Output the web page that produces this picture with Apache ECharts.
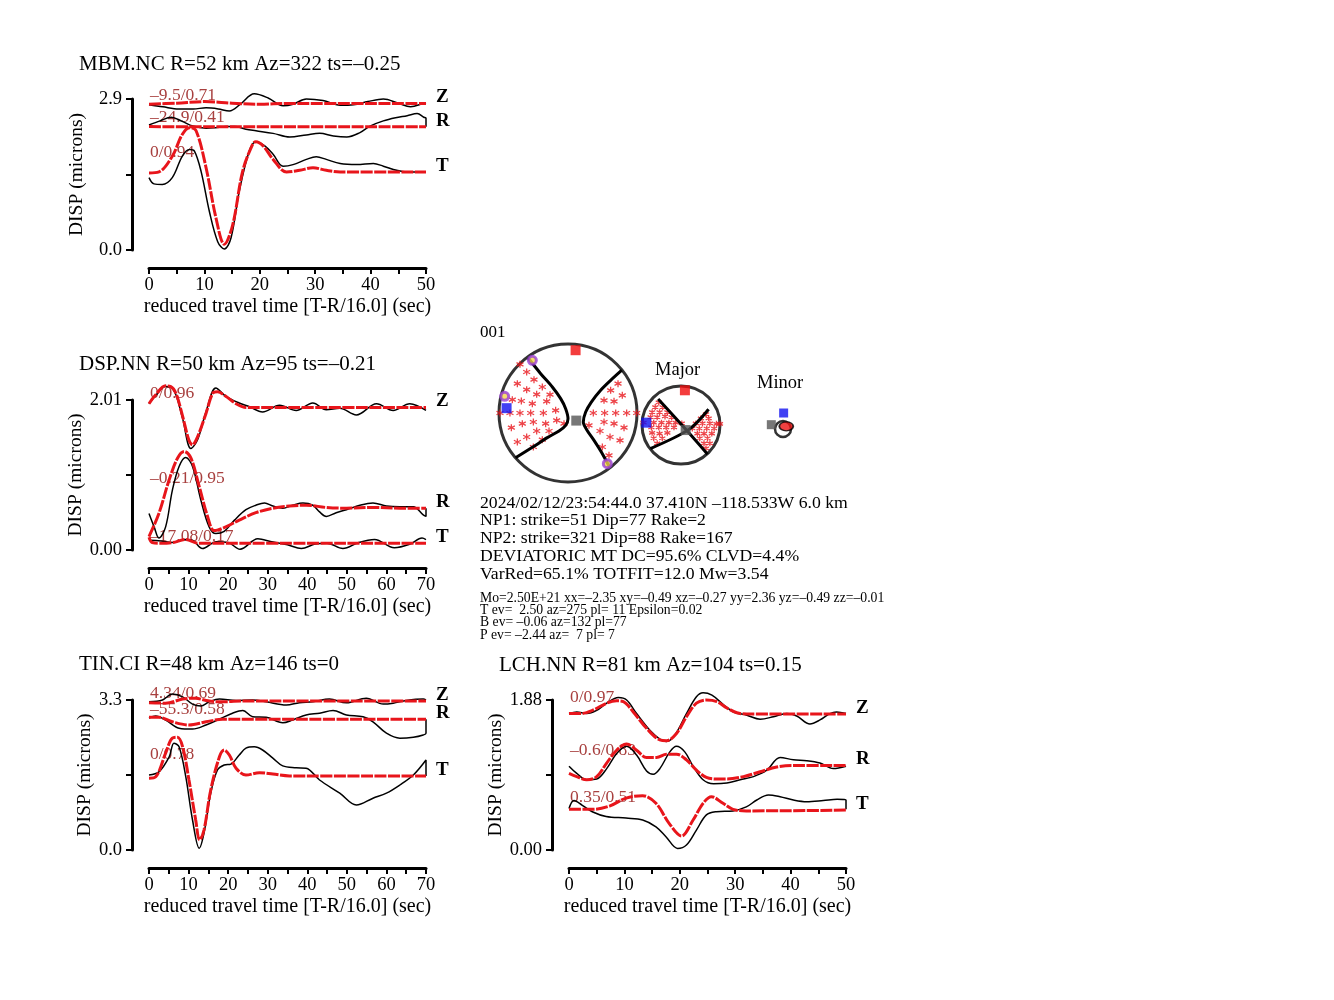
<!DOCTYPE html>
<html>
<head>
<meta charset="utf-8">
<script src="https://cdn.jsdelivr.net/npm/echarts@6/dist/echarts.min.js"></script>
<style>
  html, body { margin: 0; background: #fff; }
  #chart { width: 1334px; height: 1000px; }
</style>
</head>
<body>
<div id="chart"></div>
<script>
// ---- waveform traces: [time (s), displacement incl. trace offset (microns)] ----
// MBM.NC
const mbmZObs = [[0,2.79],[2.5,2.75],[5.4,2.71],[8,2.71],[10.3,2.73],[12.5,2.71],[14.5,2.67],[16.5,2.80],[19,3.0],[21.5,2.92],[24.2,2.77],[26,2.80],[28.4,2.90],[31.4,2.87],[34.5,2.78],[36.9,2.79],[39.5,2.85],[42.3,2.90],[45,2.82],[47.2,2.75],[49.6,2.82],[50,2.83]];
const mbmZSyn = [[0,2.80],[5,2.82],[10,2.85],[15,2.82],[20,2.80],[25,2.815],[50,2.815]];
const mbmRObs = [[0,2.40],[2,2.48],[4,2.55],[6,2.47],[7.9,2.38],[10.3,2.34],[12,2.35],[13.9,2.37],[15.5,2.37],[17.5,2.32],[19.3,2.29],[22.4,2.24],[25.4,2.17],[28.4,2.21],[30.8,2.24],[33.3,2.19],[35.7,2.17],[38,2.25],[39.9,2.38],[42.3,2.48],[44.5,2.54],[46.6,2.58],[48.4,2.62],[49.6,2.55],[50,2.53],[50,2.365]];
const mbmRSyn = [[0,2.37],[10,2.365],[50,2.365]];
const mbmTObs = [[0,1.39],[0.9,1.27],[2.4,1.26],[4.2,1.39],[6.0,1.80],[7.3,1.93],[8.2,1.90],[9.4,1.51],[10.9,0.74],[12.4,0.16],[13.6,0.02],[14.8,0.23],[16.3,1.13],[18.1,1.90],[19.3,2.08],[20.9,2.00],[22.4,1.84],[24.2,1.61],[26.0,1.64],[28.4,1.74],[30.2,1.79],[32.0,1.74],[34.5,1.66],[37.5,1.64],[40.5,1.66],[42.3,1.61],[44.7,1.53],[46.6,1.50],[50,1.50]];
const mbmTSyn = [[0,1.48],[1.8,1.50],[4.2,1.80],[6.0,2.22],[7.3,2.35],[8.5,2.29],[10.3,1.58],[12.1,0.61],[13.6,0.11],[15.1,0.48],[16.9,1.51],[18.7,2.03],[19.3,2.08],[20.6,2.00],[22.4,1.74],[24.8,1.50],[27.2,1.53],[29.6,1.58],[32.0,1.53],[34.5,1.50],[50,1.50]];
// DSP.NN
const dspZObs = [[0,1.96],[1.7,2.07],[4.2,2.19],[5.5,2.18],[6.8,2.08],[8.5,1.76],[10.6,1.36],[12.3,1.48],[14.4,1.85],[16.9,2.17],[19.4,2.06],[22.8,1.97],[25.4,1.92],[28.7,1.85],[33.0,1.94],[37.2,1.87],[41.4,1.97],[44.8,1.88],[48.2,1.90],[52.4,1.81],[57.5,1.96],[61.7,1.87],[65.9,1.96],[70,1.87]];
const dspZSyn = [[0,1.96],[1.7,2.08],[4.2,2.20],[5.5,2.19],[6.8,2.10],[8.5,1.79],[10.1,1.47],[11.0,1.41],[12.3,1.52],[14.4,1.83],[16.1,2.10],[17.3,2.12],[19.4,2.06],[22.0,1.96],[24.5,1.91],[30,1.91],[70,1.91]];
const dspRObs = [[0,0.49],[1.3,0.31],[2.5,0.16],[4.2,0.31],[5.9,0.80],[7.6,1.12],[9.3,1.24],[11.0,1.12],[13.1,0.67],[15.2,0.31],[16.9,0.22],[19.0,0.25],[21.6,0.40],[24.5,0.54],[27.0,0.60],[29.2,0.63],[31.3,0.59],[33.8,0.56],[36.3,0.60],[38.9,0.63],[41.4,0.60],[43.1,0.51],[44.8,0.45],[47.3,0.50],[49.9,0.54],[53.3,0.60],[56.6,0.63],[60.0,0.59],[63.4,0.58],[66.8,0.58],[69.3,0.47],[70,0.45],[70,0.56]];
const dspRSyn = [[0,0.18],[2.5,0.49],[5.1,0.94],[7.2,1.23],[8.9,1.32],[10.6,1.23],[12.7,0.85],[14.8,0.45],[16.5,0.26],[19.4,0.31],[22.8,0.40],[27.0,0.50],[31.3,0.56],[35.5,0.59],[39.7,0.60],[44.8,0.57],[49.9,0.56],[56.6,0.57],[63.4,0.56],[70,0.56]];
const dspTObs = [[0,0.13],[3,0.12],[6,0.10],[9,0.14],[11,0.13],[13.5,0.02],[17,0.11],[20,0.10],[23,0.01],[27.5,0.15],[31,0.11],[35,0.07],[38.5,0.02],[42,0.08],[45,0.09],[49,0.02],[53,0.10],[57,0.14],[62,0.03],[66,0.08],[69,0.16],[70,0.14]];
const dspTSyn = [[0,0.17],[0.8,0.10],[3,0.09],[6,0.10],[9.3,0.14],[12.5,0.09],[16,0.09],[70,0.09]];
// TIN.CI
const tinZObs = [[0,3.26],[3.4,3.30],[5.9,3.43],[8.5,3.37],[11.0,3.21],[13.1,3.17],[15.2,3.26],[17.8,3.32],[22.0,3.29],[26.2,3.30],[29.6,3.26],[34.7,3.19],[38.0,3.24],[41.4,3.26],[45.6,3.32],[49.9,3.24],[54.9,3.34],[59.2,3.21],[61.7,3.23],[65.1,3.29],[69.3,3.32],[70,3.30]];
const tinZSyn = [[0,3.24],[4.2,3.23],[8.5,3.32],[11.8,3.34],[14.4,3.29],[17.8,3.26],[25,3.28],[70,3.28]];
const tinRObs = [[0,2.90],[1.7,2.95],[4.2,2.86],[7.6,2.68],[11.0,2.66],[14.4,2.75],[17.8,2.88],[21.1,3.01],[23.7,3.07],[26.2,2.93],[29.6,2.92],[33.8,2.80],[36.3,2.86],[39.7,2.97],[43.1,3.01],[46.5,3.07],[49.9,2.97],[54.1,2.93],[56.6,2.82],[60.0,2.57],[63.4,2.46],[66.8,2.48],[69.3,2.53],[70,2.57],[70,2.875]];
const tinRSyn = [[0,2.92],[2.5,2.92],[5.9,2.82],[10.1,2.75],[14.4,2.82],[18.6,2.875],[22.8,2.875],[70,2.875]];
const tinTObs = [[0,1.65],[2.5,1.72],[5.1,2.05],[6.3,2.35],[7.6,2.27],[9.3,1.61],[11.0,0.66],[12.7,0.04],[13.9,0.37],[15.6,1.25],[17.3,1.76],[19.0,1.87],[20.7,1.89],[22.8,2.09],[24.5,2.24],[26.6,2.27],[28.7,2.20],[31.3,2.02],[33.8,1.85],[37.2,1.81],[39.7,1.80],[43.1,1.54],[48.2,1.25],[52.4,0.99],[56.6,1.14],[60.0,1.25],[63.4,1.43],[66.8,1.65],[70,1.98],[70,1.63]];
const tinTSyn = [[0,1.58],[1.7,1.61],[4.2,2.13],[5.9,2.46],[7.2,2.48],[8.5,2.27],[10.1,1.54],[11.8,0.66],[12.8,0.22],[13.9,0.44],[15.6,1.32],[17.8,2.05],[19.0,2.20],[20.3,2.09],[22.0,1.80],[24.5,1.65],[27.9,1.70],[31.3,1.67],[35.5,1.63],[70,1.63]];
// LCH.NN
const lchZObs = [[0,1.71],[1.4,1.73],[3.2,1.71],[5.0,1.75],[6.8,1.84],[8.9,1.91],[10.4,1.88],[12.2,1.71],[14.6,1.50],[16.4,1.39],[17.6,1.36],[19.1,1.44],[21.2,1.71],[23.0,1.92],[24.2,1.97],[25.8,1.94],[27.9,1.82],[29.7,1.73],[32.1,1.69],[34.5,1.64],[36.9,1.67],[39.3,1.71],[41.1,1.68],[43.5,1.58],[45.3,1.63],[47.1,1.71],[48.3,1.73],[50,1.71]];
const lchZSyn = [[0,1.71],[2.0,1.71],[4.4,1.755],[6.8,1.84],[8.6,1.87],[9.8,1.86],[11.6,1.73],[14.0,1.525],[16.4,1.38],[17.6,1.37],[19.4,1.46],[21.2,1.67],[23.0,1.84],[24.8,1.88],[26.7,1.86],[28.5,1.78],[30.3,1.72],[32.1,1.705],[50,1.705]];
const lchRObs = [[0,1.05],[1.4,0.96],[3.2,0.88],[5.0,0.89],[6.8,1.02],[8.6,1.21],[10.4,1.30],[12.2,1.19],[14.0,0.99],[15.2,0.95],[16.4,1.02],[18.2,1.23],[19.4,1.30],[20.9,1.23],[22.4,1.05],[24.2,0.88],[26.1,0.83],[28.5,0.84],[30.9,0.88],[33.3,0.92],[35.7,1.00],[38.1,1.16],[40.5,1.13],[42.9,1.12],[45.3,1.09],[47.7,1.02],[50,1.05]];
const lchRSyn = [[0,0.96],[1.4,0.92],[3.2,0.88],[5.0,0.92],[6.8,1.09],[8.6,1.25],[10.4,1.33],[12.2,1.25],[14.0,1.16],[15.8,1.16],[17.6,1.20],[19.4,1.20],[21.2,1.13],[23.0,1.00],[24.8,0.91],[26.7,0.89],[28.5,0.89],[31.5,0.92],[34.5,0.98],[37.5,1.04],[40.5,1.06],[50,1.06]];
const lchTObs = [[0,0.52],[0.9,0.62],[2.4,0.56],[4.2,0.48],[6.7,0.42],[10.3,0.40],[13.3,0.376],[15.7,0.29],[17.5,0.167],[19.6,0.02],[21.2,0.063],[23.0,0.25],[24.8,0.44],[26.6,0.48],[29.6,0.49],[32.0,0.54],[33.9,0.627],[36.0,0.69],[38.1,0.668],[40.5,0.627],[42.9,0.606],[45.9,0.62],[48.4,0.635],[50,0.627],[50,0.51]];
const lchTSyn = [[0,0.51],[4.2,0.51],[7.3,0.55],[10.3,0.65],[13.3,0.68],[15.7,0.585],[18.1,0.33],[20.3,0.175],[22.4,0.376],[24.2,0.585],[25.7,0.668],[27.8,0.585],[29.6,0.51],[32.0,0.49],[50,0.50]];

// fit labels (time shift / correlation) for Z, R, T
const mbmFits = ['–9.5/0.71', '–24.9/0.41', '0/0.94'];
const dspFits = ['0/0.96', '–0.21/0.95', '–17.08/0.17'];
const tinFits = ['4.34/0.69', '–55.3/0.58', '0/0.78'];
const lchFits = ['0/0.97', '–0.6/0.83', '0.35/0.51'];
const components = ['Z', 'R', 'T'];

// ---- focal mechanism plots: points in unit-circle coordinates ----
const bigNodal1 = [[-0.58,0.80],[-0.396,0.570],[-0.227,0.377],[-0.106,0.208],[-0.034,0.063],[0.0,-0.082],[-0.034,-0.179],[-0.130,-0.261],[-0.300,-0.357],[-0.493,-0.483],[-0.76,-0.65]];
const bigNodal2 = [[0.78,0.62],[0.618,0.473],[0.473,0.329],[0.338,0.159],[0.256,0.014],[0.222,-0.130],[0.271,-0.242],[0.377,-0.396],[0.483,-0.565],[0.60,-0.78]];
const bigStars = [[-0.696,0.705],[-0.599,0.594],[-0.493,0.483],[-0.372,0.377],[-0.734,0.425],[-0.599,0.338],[-0.454,0.271],[-0.261,0.266],[-0.807,0.193],[-0.676,0.174],[-0.517,0.135],[-0.309,0.169],[-0.179,0.039],[-0.986,0],[-0.841,0],[-0.696,0],[-0.541,0],[-0.357,0],[-0.164,-0.106],[-0.058,-0.155],[-0.821,-0.213],[-0.662,-0.155],[-0.502,-0.130],[-0.324,-0.155],[-0.454,-0.261],[-0.275,-0.261],[-0.599,-0.348],[-0.734,-0.420],[-0.372,-0.386],[-0.502,-0.493],
  [0.725,0.425],[0.618,0.329],[0.787,0.256],[0.522,0.184],[0.667,0.169],[0.367,0],[0.531,0],[0.691,0],[0.850,0],[0.995,0],[0.304,-0.179],[0.522,-0.130],[0.667,-0.155],[0.812,-0.213],[0.464,-0.261],[0.609,-0.348],[0.754,-0.396],[0.498,-0.493],[0.594,-0.614]];
const bigPAxis = [[0.11,0.91]];
const bigTAxis = [[-0.89,0.07]];
const bigBAxis = [[0.12,-0.11]];
const bigStations = [[-0.517,0.763],[-0.918,0.242],[0.570,-0.734]];

const majorNodal1 = [[-0.586,0.664],[0.121,-0.112],[0.681,-0.750]];
const majorNodal2 = [[0.707,0.405],[0.207,-0.112],[-0.784,-0.603]];
const majorStars = [[-0.57,0.58],[-0.66,0.46],[-0.47,0.46],[-0.74,0.33],[-0.55,0.33],[-0.35,0.33],[-0.78,0.20],[-0.61,0.20],[-0.41,0.22],[-0.24,0.20],[-0.70,0.06],[-0.50,0.06],[-0.31,0.06],[-0.14,0.06],[0.02,0.04],[-0.96,0.06],[-0.76,-0.06],[-0.57,-0.06],[-0.38,-0.06],[-0.18,-0.06],[-0.74,-0.20],[-0.55,-0.22],[-0.35,-0.20],[-0.70,-0.34],[-0.48,-0.34],[-0.61,-0.47],
  [0.64,0.28],[0.51,0.17],[0.71,0.17],[0.38,0.04],[0.55,0.04],[0.74,0.04],[0.91,0.03],[1.0,0.03],[0.29,-0.09],[0.47,-0.09],[0.66,-0.09],[0.85,-0.09],[0.42,-0.22],[0.59,-0.22],[0.79,-0.22],[0.48,-0.34],[0.68,-0.34],[0.59,-0.47],[0.74,-0.47],[0.64,-0.60]];
const majorPAxis = [[0.10,0.89]];
const majorTAxis = [[-0.89,0.06]];
const majorBAxis = [[0.12,-0.13]];

const minorLobe = [[0.41,0.33]];
const minorTAxis = [[0.08,2.0]];
const minorBAxis = [[-1.46,0.54]];

const eventInfo = [
  '2024/02/12/23:54:44.0 37.410N –118.533W 6.0 km',
  'NP1: strike=51 Dip=77 Rake=2',
  'NP2: strike=321 Dip=88 Rake=167',
  'DEVIATORIC MT DC=95.6% CLVD=4.4%',
  'VarRed=65.1% TOTFIT=12.0 Mw=3.54'
];
const tensorInfo = [
  'Mo=2.50E+21 xx=–2.35 xy=–0.49 xz=–0.27 yy=2.36 yz=–0.49 zz=–0.01',
  'T ev=  2.50 az=275 pl= 11 Epsilon=0.02',
  'B ev= –0.06 az=132 pl=77',
  'P ev= –2.44 az=  7 pl= 7'
];

// ---- layout / style ----
const FONT = "'Liberation Serif', 'DejaVu Serif', serif";
const RED = '#e8151b';
const FIT = '#a8403f';

const panels = [
  { title: 'MBM.NC R=52 km Az=322 ts=–0.25', obs: [mbmZObs, mbmRObs, mbmTObs], syn: [mbmZSyn, mbmRSyn, mbmTSyn], fits: mbmFits, fitY: [95, 117, 152],
    xMax: 50, yMax: 2.9, digits: 1, left: 149, top: 99, height: 151, titleX: 79, titleY: 64, nameGap: 45 },
  { title: 'DSP.NN R=50 km Az=95 ts=–0.21', obs: [dspZObs, dspRObs, dspTObs], syn: [dspZSyn, dspRSyn, dspTSyn], fits: dspFits, fitY: [393, 478, 536],
    xMax: 70, yMax: 2.01, digits: 2, left: 149, top: 400, height: 150, titleX: 79, titleY: 364, nameGap: 45 },
  { title: 'TIN.CI R=48 km Az=146 ts=0', obs: [tinZObs, tinRObs, tinTObs], syn: [tinZSyn, tinRSyn, tinTSyn], fits: tinFits, fitY: [693, 709, 754],
    xMax: 70, yMax: 3.3, digits: 1, left: 149, top: 700, height: 150, titleX: 79, titleY: 664, nameGap: 37 },
  { title: 'LCH.NN R=81 km Az=104 ts=0.15', obs: [lchZObs, lchRObs, lchTObs], syn: [lchZSyn, lchRSyn, lchTSyn], fits: lchFits, fitY: [697, 750, 797],
    xMax: 50, yMax: 1.88, digits: 2, left: 569, top: 700, height: 150, titleX: 499, titleY: 665, nameGap: 45 }
];

const balls = [
  { cx: 568, cy: 413, r: 69 },
  { cx: 681, cy: 425, r: 39 },
  { cx: 783, cy: 429, r: 8 }
];

const ASTERISK = 'path://M5,0L5,10M0.67,2.5L9.33,7.5M0.67,7.5L9.33,2.5';

const grid = [], xAxis = [], yAxis = [], series = [], graphic = [];

function txt(text, x, y, size, color) {
  graphic.push({ type: 'text', x: x, y: y, silent: true,
    style: { text: text, fill: color || '#000', font: size + 'px ' + FONT, verticalAlign: 'middle', textAlign: 'left' } });
}

panels.forEach((p, i) => {
  grid.push({ left: p.left, top: p.top, width: 277, height: p.height });
  const tickStyle = { color: '#000', fontFamily: FONT, fontSize: 18.5 };
  const nameStyle = { color: '#000', fontFamily: FONT, fontSize: 20 };
  xAxis.push({
    gridIndex: i, type: 'value', min: 0, max: p.xMax, interval: 5, position: 'bottom', offset: 18,
    axisLine: { onZero: false, lineStyle: { color: '#000', width: 3 } },
    axisTick: { length: 6, lineStyle: { color: '#000', width: 2 } },
    axisLabel: Object.assign({ margin: 8, formatter: v => (v % 10 === 0 ? String(v) : '') }, tickStyle),
    splitLine: { show: false },
    name: 'reduced travel time [T-R/16.0] (sec)', nameLocation: 'middle', nameGap: 29,
    nameTextStyle: nameStyle
  });
  yAxis.push({
    gridIndex: i, type: 'value', min: 0, max: p.yMax, interval: p.yMax / 2, position: 'left', offset: 17,
    axisLine: { show: true, onZero: false, lineStyle: { color: '#000', width: 3 } },
    axisTick: { show: true, length: 6, lineStyle: { color: '#000', width: 2 } },
    axisLabel: Object.assign({ margin: 10, formatter: v => (Math.abs(v) < 1e-9 || Math.abs(v - p.yMax) < 1e-6 ? v.toFixed(p.digits) : '') }, tickStyle),
    splitLine: { show: false },
    name: 'DISP (microns)', nameLocation: 'middle', nameGap: p.nameGap,
    nameTextStyle: Object.assign({}, nameStyle, { fontSize: 19.5 })
  });
  p.obs.forEach(d => series.push({
    type: 'line', xAxisIndex: i, yAxisIndex: i, data: d, smooth: 0.35, symbol: 'none', clip: false, silent: true,
    lineStyle: { color: '#000', width: 1.5 }, z: 2
  }));
  p.syn.forEach((d, k) => series.push({
    type: 'line', xAxisIndex: i, yAxisIndex: i, data: d, smooth: 0.35, symbol: 'none', clip: false, silent: true,
    lineStyle: { color: RED, width: 3, type: [12, 1.5] }, z: 3,
    endLabel: { show: true, formatter: components[k], distance: 10, offset: [0, -6], color: '#000', fontFamily: FONT, fontSize: 19, fontWeight: 'bold' }
  }));
  txt(p.title, p.titleX, p.titleY, 21);
  p.fits.forEach((f, k) => txt(f, p.left + 1, p.fitY[k], 17.5, FIT));
});

// focal mechanism grids
balls.forEach((b, j) => {
  grid.push({ left: b.cx - b.r, top: b.cy - b.r, width: 2 * b.r, height: 2 * b.r });
  xAxis.push({ gridIndex: panels.length + j, type: 'value', min: -1, max: 1, show: false });
  yAxis.push({ gridIndex: panels.length + j, type: 'value', min: -1, max: 1, show: false });
});
const gi = k => ({ xAxisIndex: panels.length + k, yAxisIndex: panels.length + k, silent: true, clip: false });
function ballSeries(k, stars, nodals, pAx, tAx, bAx, starSize, sq) {
  series.push(Object.assign({ type: 'scatter', data: [[0, 0]], symbol: 'circle', symbolSize: 2 * balls[k].r,
    itemStyle: { color: 'rgba(0,0,0,0)', borderColor: '#000', borderWidth: 3 }, z: 1 }, gi(k)));
  series.push(Object.assign({ type: 'scatter', data: stars, symbol: ASTERISK, symbolSize: starSize,
    itemStyle: { color: 'rgba(0,0,0,0)', borderColor: RED, borderWidth: 1.3 }, z: 2 }, gi(k)));
  nodals.forEach(n => series.push(Object.assign({ type: 'line', data: n, smooth: 0.3, symbol: 'none',
    lineStyle: { color: '#000', width: 3 }, z: 3 }, gi(k))));
  series.push(Object.assign({ type: 'scatter', data: pAx, symbol: 'rect', symbolSize: sq, itemStyle: { color: '#f00d0d' }, z: 4 }, gi(k)));
  series.push(Object.assign({ type: 'scatter', data: tAx, symbol: 'rect', symbolSize: sq, itemStyle: { color: '#1212f0' }, z: 4 }, gi(k)));
  series.push(Object.assign({ type: 'scatter', data: bAx, symbol: 'rect', symbolSize: sq, itemStyle: { color: '#555' }, z: 4 }, gi(k)));
}
ballSeries(0, bigStars, [bigNodal1, bigNodal2], bigPAxis, bigTAxis, bigBAxis, 7, 10);
series.push(Object.assign({ type: 'scatter', data: bigStations, symbol: 'circle', symbolSize: 8,
  itemStyle: { color: '#f3d54a', borderColor: '#9a3fd6', borderWidth: 3 }, z: 5 }, gi(0)));
ballSeries(1, majorStars, [majorNodal1, majorNodal2], majorPAxis, majorTAxis, majorBAxis, 6, 10);
// minor
series.push(Object.assign({ type: 'scatter', data: [[0, 0]], symbol: 'circle', symbolSize: 16,
  itemStyle: { color: 'rgba(0,0,0,0)', borderColor: '#000', borderWidth: 2.5 }, z: 1 }, gi(2)));
series.push(Object.assign({ type: 'scatter', data: minorLobe, symbol: 'circle', symbolSize: [14, 9],
  itemStyle: { color: '#ee1111', borderColor: '#000', borderWidth: 1.5 }, z: 2 }, gi(2)));
series.push(Object.assign({ type: 'scatter', data: minorTAxis, symbol: 'rect', symbolSize: 9, itemStyle: { color: '#1212f0' }, z: 4 }, gi(2)));
series.push(Object.assign({ type: 'scatter', data: minorBAxis, symbol: 'rect', symbolSize: 9, itemStyle: { color: '#555' }, z: 4 }, gi(2)));

txt('001', 480, 333, 17);
txt('Major', 655, 370, 18.5);
txt('Minor', 757, 383, 18.5);
eventInfo.forEach((s, k) => txt(s, 480, 503 + k * 17.8, 17.7));
tensorInfo.forEach((s, k) => txt(s, 480, 598 + k * 12.4, 13.7));

const chart = echarts.init(document.getElementById('chart'));
chart.setOption({
  backgroundColor: '#fff',
  animation: false,
  grid: grid,
  xAxis: xAxis,
  yAxis: yAxis,
  series: series,
  graphic: graphic
});
</script>
</body>
</html>
